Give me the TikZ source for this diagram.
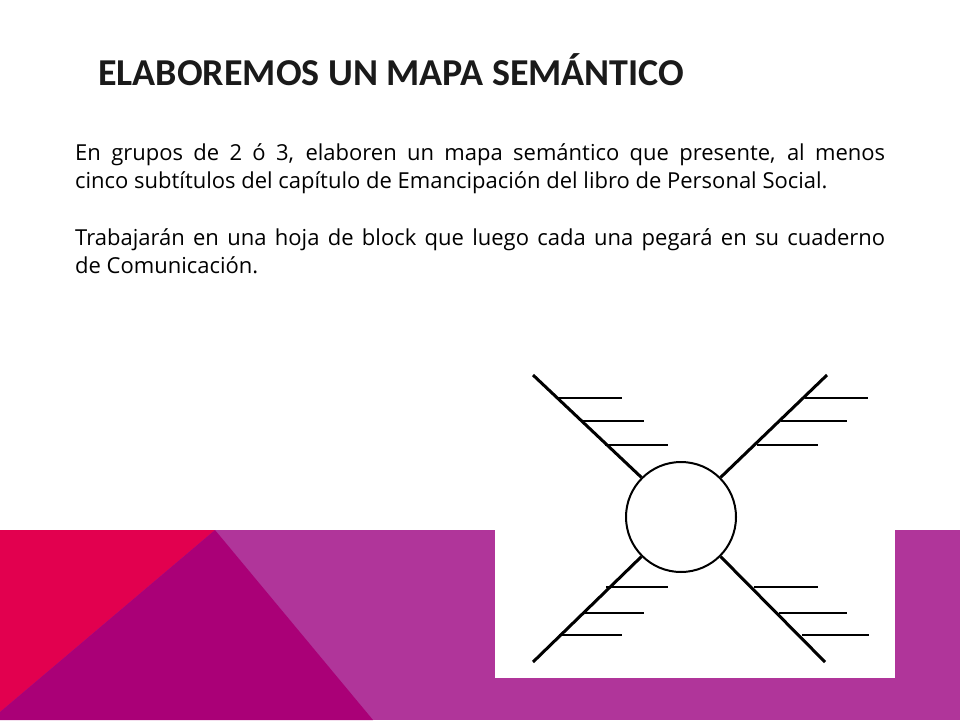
\documentclass[tikz,border=0pt]{standalone}
\usepackage{fontspec}
\setmainfont{Open Sans}
\newfontfamily\titlefont{Carlito}
\definecolor{bandred}{HTML}{E2004F}
\definecolor{banddark}{HTML}{AA0077}
\definecolor{bandlight}{HTML}{B0359A}
\definecolor{titlegray}{HTML}{1A1A1A}
\tikzset{
  arm/.style={line width=3pt, black},
  tick/.style={line width=1.4pt, black},
  hub/.style={circle, draw=black, line width=2pt, minimum size=110pt, inner sep=0pt, fill=white},
  body/.style={anchor=base west, inner sep=0pt, font=\fontsize{22}{28}\selectfont},
}
\begin{document}
\begin{tikzpicture}[x=1pt,y=-1pt]
\useasboundingbox (0,0) rectangle (960,720);
\fill[white] (0,0) rectangle (960,720);
% bottom band
\fill[bandlight] (0,530) rectangle (960,720);
\fill[bandred] (0,530) -- (215,530) -- (0,712) -- cycle;
\fill[banddark] (215,530) -- (373,720) -- (0,720) -- (0,712) -- cycle;
% white picture
\fill[white] (495,360) rectangle (895,678);
% title
\node[anchor=base west, inner sep=0pt, text=titlegray, font=\titlefont\fontsize{38}{42}\selectfont\bfseries] (title) at (98,85) {ELABOREMOS UN MAPA SEMÁNTICO};
% body
\node[body] (p1) at (75,160) {\parbox[t]{810pt}{\fontsize{22}{28}\selectfont En grupos de 2 ó 3, elaboren un mapa semántico que presente, al menos\linebreak cinco subtítulos del capítulo de Emancipación del libro de Personal Social.}};
\node[body] (p2) at (75,245) {\parbox[t]{810pt}{\fontsize{22}{28}\selectfont Trabajarán en una hoja de block que luego cada una pegará en su cuaderno\linebreak de Comunicación.}};
% diagram
\node[hub] (c) at (681,517) {};
\coordinate (ul) at (533,375);
\coordinate (ur) at (827,375);
\coordinate (ll) at (533,662);
\coordinate (lr) at (825,662);
\draw[arm] (c.135) -- (ul);
\draw[arm] (c.45) -- (ur);
\draw[arm] (c.225) -- (ll);
\draw[arm] (c.-45) -- (lr);
% ticks
\draw[tick] (557,398) -- (622,398);
\draw[tick] (581,421) -- (644,421);
\draw[tick] (605,445) -- (668,445);
\draw[tick] (805,398) -- (868,398);
\draw[tick] (781,421) -- (847,421);
\draw[tick] (757,445) -- (818,445);
\draw[tick] (606,587) -- (668,587);
\draw[tick] (582,613) -- (644,613);
\draw[tick] (559,635) -- (622,635);
\draw[tick] (754,587) -- (818,587);
\draw[tick] (779,613) -- (847,613);
\draw[tick] (802,635) -- (869,635);
\end{tikzpicture}
\end{document}
